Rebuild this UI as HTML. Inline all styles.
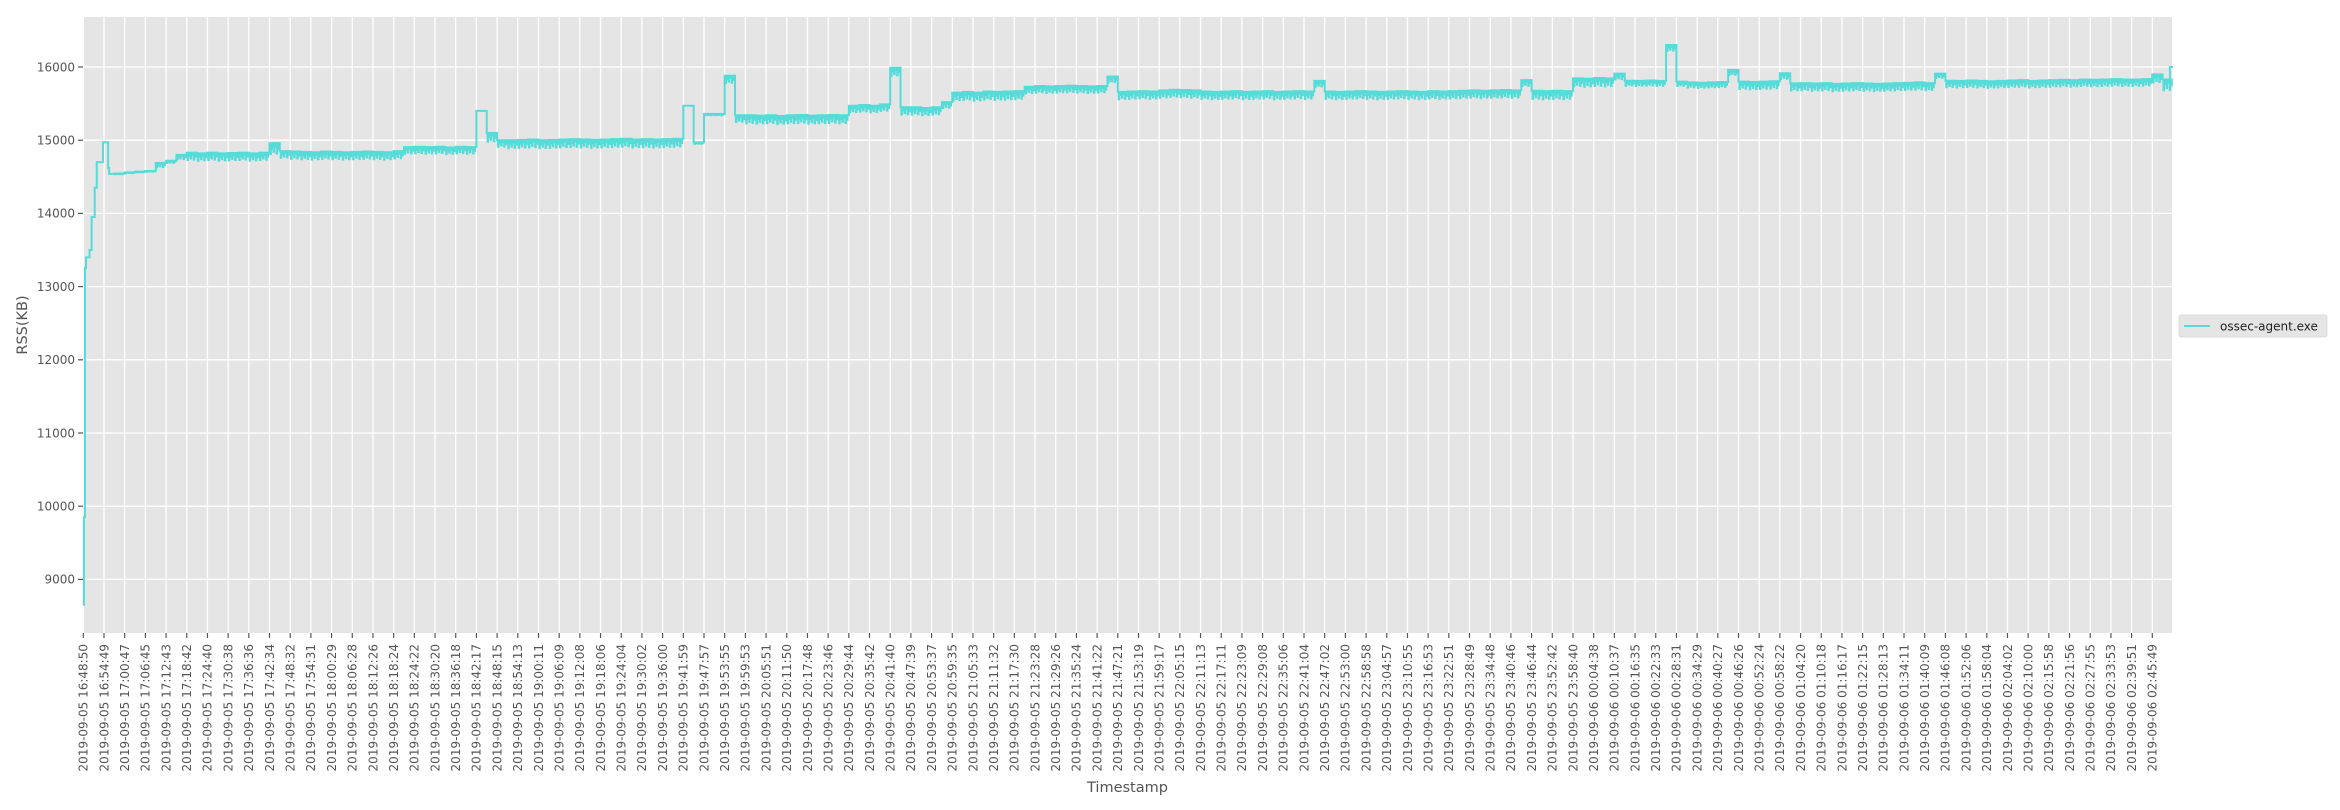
<!DOCTYPE html>
<html><head><meta charset="utf-8"><style>
html,body{margin:0;padding:0;background:#fff;}
svg{display:block;font-family:"DejaVu Sans","Liberation Sans",sans-serif;}
</style></head><body>
<svg id="chart" width="2340" height="810" viewBox="0 0 2340 810" xmlns="http://www.w3.org/2000/svg">
<rect x="83" y="17" width="2089" height="616" fill="#e5e5e5"/>
<g id="grid"></g>
<g id="series"></g>
<g id="yaxis"></g>
<g id="xaxis"></g>
<text x="0" y="0" transform="translate(27,325) rotate(-90)" text-anchor="middle" font-size="14.5" fill="#555">RSS(KB)</text>
<text x="1127.5" y="792" text-anchor="middle" font-size="14.5" fill="#555">Timestamp</text>
<g>
<rect x="2179" y="315" width="148" height="22" rx="2" fill="#e5e5e5" stroke="#d8d8d8" stroke-width="0.8"/>
<line x1="2184" y1="326" x2="2210" y2="326" stroke="#55dcd8" stroke-width="2"/>
<text x="2220" y="330.5" font-size="12" fill="#222">ossec-agent.exe</text>
</g>
</svg>
<script>
// ---- data ----
const yTicks = [9000,10000,11000,12000,13000,14000,15000,16000];
const tickTimes = ["16:48:50","16:54:49","17:00:47","17:06:45","17:12:43","17:18:42","17:24:40","17:30:38","17:36:36","17:42:34","17:48:32","17:54:31","18:00:29","18:06:28","18:12:26","18:18:24","18:24:22","18:30:20","18:36:18","18:42:17","18:48:15","18:54:13","19:00:11","19:06:09","19:12:08","19:18:06","19:24:04","19:30:02","19:36:00","19:41:59","19:47:57","19:53:55","19:59:53","20:05:51","20:11:50","20:17:48","20:23:46","20:29:44","20:35:42","20:41:40","20:47:39","20:53:37","20:59:35","21:05:33","21:11:32","21:17:30","21:23:28","21:29:26","21:35:24","21:41:22","21:47:21","21:53:19","21:59:17","22:05:15","22:11:13","22:17:11","22:23:09","22:29:08","22:35:06","22:41:04","22:47:02","22:53:00","22:58:58","23:04:57","23:10:55","23:16:53","23:22:51","23:28:49","23:34:48","23:40:46","23:46:44","23:52:42","23:58:40","00:04:38","00:10:37","00:16:35","00:22:33","00:28:31","00:34:29","00:40:27","00:46:26","00:52:24","00:58:22","01:04:20","01:10:18","01:16:17","01:22:15","01:28:13","01:34:11","01:40:09","01:46:08","01:52:06","01:58:04","02:04:02","02:10:00","02:15:58","02:21:56","02:27:55","02:33:53","02:39:51","02:45:49"];
const tickDays = tickTimes.map((t,i)=> i<73 ? "2019-09-05" : "2019-09-06");
const rampT = [0,0.03,0.08,0.13,0.3,0.4,0.55,0.65,0.95,1.2,1.25];
const rampV = [8650,9850,13250,13400,13500,13950,14350,14700,14970,14620,14540];
const rss = [
14545,14560,14570,14580,14690,14720,14800,
14830,14820,14830,14820,14825,14830,14820,14830,
14960,14850,
14845,14840,14835,14845,14840,14835,14840,14845,14840,14835,14850,
14905,14910,14905,14910,14900,14910,14905,
15400,15100,15000,
15000,15005,15010,15000,15005,15010,15015,15010,15005,15010,15015,15020,15010,15015,15010,15015,15020,
15470,14970,15360,15360,15880,15340,
15340,15335,15340,15330,15340,15345,15335,15340,15345,15340,
15470,15480,15470,15490,
15990,15450,
15450,15440,15450,
15520,
15650,15660,15650,15665,15660,15665,15670,
15730,15740,15735,15740,15745,15740,15735,15740,
15870,
15660,15665,15670,15665,15680,15690,15685,15680,15665,15660,15665,15670,15660,15665,15670,15660,15665,15670,15665,
15810,
15665,15660,15665,15670,15665,15660,15665,15670,15665,15660,15670,15665,15670,15675,
15680,15675,15680,15685,15680,
15820,
15675,15670,15675,15670,
15845,15840,15850,15845,
15910,
15813,15810,15815,15810,
16300,15800,
15790,15785,15790,15795,
15960,
15800,15795,15800,15805,
15915,
15777,15780,15775,15780,15770,15775,15780,15775,15770,15775,15780,15785,15790,15780,
15910,
15813,15810,15815,15810,15805,15810,15815,15820,15810,15815,15820,15825,15820,15830,15825,15830,15835,15830,15830,15835,
15900,15830];
const dips = [
10,10,10,10,60,30,60,
100,100,100,100,100,100,100,100,
150,90,
100,100,100,100,100,100,100,100,100,100,100,
90,90,90,90,90,90,90,
0,120,90,
110,110,110,110,110,110,110,110,110,110,110,110,110,110,110,110,110,
0,20,20,20,100,90,
110,110,110,110,110,110,110,110,110,110,
90,90,90,90,
110,100,
100,100,100,
80,
110,110,110,110,110,110,110,
90,90,90,90,90,90,90,90,
80,
100,100,100,100,100,100,100,100,100,100,100,100,100,100,100,100,100,100,100,
80,
100,100,100,100,100,100,100,100,100,100,100,100,100,100,
100,100,100,100,100,
80,
110,110,110,110,
110,110,110,110,
80,
70,70,70,70,
80,60,
70,70,70,70,
70,
100,100,100,100,
80,
100,100,100,100,100,100,100,100,100,100,100,100,100,100,
60,
90,90,90,90,90,90,90,90,90,90,90,90,90,90,90,90,90,90,90,90,
110,150];
const endT = [100.85,101];
const endV = [16000,16000];
const dipShape = [1,0.45,0.8,0.3,0.95,0.55];

// ---- axes ----
const X0=83.3, DX=20.69, PL=83, PR=2172, PT=17, PB=633;
const xs = t => X0 + t*DX;
const ys = v => 67 + (16000 - v)*0.0732;
const NS="http://www.w3.org/2000/svg";
function mk(tag, parent){ const e=document.createElementNS(NS,tag); parent.appendChild(e); return e; }
const grid=document.getElementById('grid'), yax=document.getElementById('yaxis'), xax=document.getElementById('xaxis'), ser=document.getElementById('series');

yTicks.forEach(v=>{
  const y=ys(v);
  const g=mk('line',grid);
  
  
  g.setAttribute('x1',PL);g.setAttribute('x2',PR);g.setAttribute('y1',y);g.setAttribute('y2',y);
  g.setAttribute('stroke','#fff');g.setAttribute('stroke-width','1.3');
  const tk=mk('line',yax);
  
  
  tk.setAttribute('x1',PL-5);tk.setAttribute('x2',PL);tk.setAttribute('y1',y);tk.setAttribute('y2',y);
  tk.setAttribute('stroke','#555');tk.setAttribute('stroke-width','1.2');
  const tx=mk('text',yax);
  
  
  tx.setAttribute('x',PL-8);tx.setAttribute('y',y+4.3);tx.setAttribute('text-anchor','end');
  tx.setAttribute('font-size','12');tx.setAttribute('fill','#555');
  tx.textContent=v;
});
tickTimes.forEach((t,i)=>{
  const x=xs(i);
  const g=mk('line',grid);
  
  
  g.setAttribute('x1',x);g.setAttribute('x2',x);g.setAttribute('y1',PT);g.setAttribute('y2',PB);
  g.setAttribute('stroke','#fff');g.setAttribute('stroke-width','1.3');
  const tk=mk('line',xax);
  
  
  tk.setAttribute('x1',x);tk.setAttribute('x2',x);tk.setAttribute('y1',PB);tk.setAttribute('y2',PB+5);
  tk.setAttribute('stroke','#555');tk.setAttribute('stroke-width','1.2');
  const tx=mk('text',xax);
  
  
  tx.setAttribute('transform','translate('+(x+4.3)+','+(PB+11)+') rotate(-90)');
  tx.setAttribute('text-anchor','end');tx.setAttribute('font-size','12');tx.setAttribute('fill','#555');
  tx.textContent=tickDays[i]+' '+t;
});

// ---- series ----
const pts=[];
rampT.forEach((t,i)=>pts.push([t,rampV[i]]));
rss.forEach((v,i)=>{
  const t0=1.5+0.5*i, d=dips[i];
  pts.push([t0,v]);
  if(d>0){
    dipShape.forEach((f,k)=>{
      const tk=t0+0.04+k*0.075;
      pts.push([tk,v-d*f]);
      pts.push([tk+0.025,v]);
    });
  }
});
endT.forEach((t,i)=>pts.push([t,endV[i]]));
let d='M'+xs(pts[0][0]).toFixed(2)+','+ys(pts[0][1]).toFixed(2);
for(let i=1;i<pts.length;i++){
  d+='H'+xs(pts[i][0]).toFixed(2)+'V'+ys(pts[i][1]).toFixed(2);
}
const path=mk('path',ser);


path.setAttribute('d',d);path.setAttribute('fill','none');
path.setAttribute('stroke','#55dcd8');path.setAttribute('stroke-width','2');
path.setAttribute('stroke-linejoin','miter');
</script>
</body></html>
